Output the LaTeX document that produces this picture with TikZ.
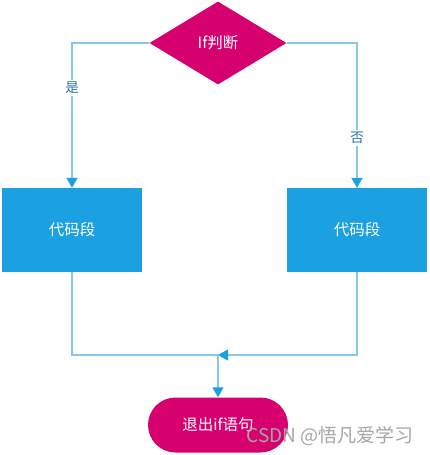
\documentclass[tikz,border=0pt]{standalone}
\usepackage{fontspec}
\newfontfamily\cjk{Noto Sans CJK SC}
\usetikzlibrary{arrows.meta,shapes.geometric}
\definecolor{ifred}{HTML}{D6006F}
\definecolor{boxblue}{HTML}{1BA1E2}
\definecolor{lineblue}{HTML}{86C8EC}
\definecolor{labelblue}{HTML}{2372B5}

\begin{document}
\begin{tikzpicture}[x=1pt,y=-1pt,
	line/.style={draw=lineblue,line width=1.3pt},
	arr/.style={line,-{Triangle[length=10pt,width=11pt,color=boxblue]}},
	yesno/.style={fill=white,text=labelblue,inner sep=2pt,font=\cjk\fontsize{13.5}{15}\selectfont},
	block/.style={fill=boxblue,text=white,minimum width=140pt,minimum height=84pt,inner sep=0pt,font=\cjk\fontsize{15.5}{17}\selectfont}]
	\useasboundingbox (0,0) rectangle (429,455);
	\node (cond) at (218,43) [diamond,fill=ifred,text=white,minimum width=137pt,minimum height=83pt,inner sep=0pt,font=\cjk\fontsize{15.5}{17}\selectfont] {If判断};
	\node (LB) at (72,230) [block] {代码段};
	\node (RB) at (357,230) [block] {代码段};
	\node (exit) at (218,425) [fill=ifred,text=white,rounded corners=27.5pt,minimum width=140pt,minimum height=55pt,inner sep=0pt,font=\cjk\fontsize{15.5}{17}\selectfont] {退出if语句};
	\coordinate (merge) at (218,355);
	\draw [arr] (cond.west) -| node [yesno,pos=0.655] {是} (LB);
	\draw [arr] (cond.east) -| node [yesno,pos=0.828] {否} (RB);
	\draw [line] (LB) |- (merge);
	\draw [arr] (RB) |- (merge);
	\draw [arr] (merge) -- (exit);
	\node (mark) at (330,436) [text=black!35,font=\cjk\fontsize{19}{21}\selectfont] {CSDN @悟凡爱学习};
\end{tikzpicture}
\end{document}
